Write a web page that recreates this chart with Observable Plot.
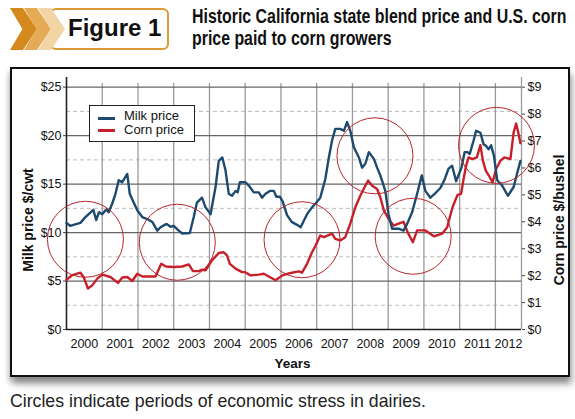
<!DOCTYPE html>
<html>
<head>
<meta charset="utf-8">
<script src="https://cdn.jsdelivr.net/npm/d3@7"></script>
<script src="https://cdn.jsdelivr.net/npm/@observablehq/plot@0.6"></script>
<style>
  html, body { margin: 0; padding: 0; background: #fff; }
  body { width: 575px; height: 419px; position: relative; overflow: hidden; font-family: "Liberation Sans", Arial, Helvetica, sans-serif; color: #111; }
  .abs { position: absolute; }
  #badgeBox { left: 50px; top: 8px; width: 115px; height: 38px; border: 2px solid #dc9a35; border-radius: 6px; background: #fff; }
  .chev { position: absolute; top: 8px; width: 27px; height: 42px; clip-path: polygon(0 0, 48% 0, 100% 50%, 48% 100%, 0 100%, 46% 50%); }
  #figText { left: 68px; top: 13.8px; font-size: 24px; line-height: 28px; font-weight: bold; color: #111; white-space: nowrap; }
  #title { left: 191.5px; top: 6px; font-size: 19.5px; line-height: 21.7px; font-weight: bold; color: #111; white-space: nowrap; transform: scaleX(0.815); transform-origin: 0 0; }
  #frame { left: 10px; top: 67px; width: 556px; height: 306px; border: 2px solid #111; background: #fff; box-shadow: 2px 7px 7px rgba(0,0,0,0.38), -2px 4px 5px rgba(0,0,0,0.15); }
  #chart { position: absolute; left: 0; top: 0; }
  #legend { left: 77px; top: 36px; width: 104px; height: 35px; border: 1.5px solid #222; background: #fff; font-size: 13px; }
  .sw { position: absolute; left: 8px; width: 17px; height: 2.6px; }
  .lt { position: absolute; left: 34px; line-height: 14px; white-space: nowrap; }
  .rot { position: absolute; transform: translate(-50%, -50%) rotate(-90deg); white-space: nowrap; font-weight: bold; font-size: 14px; }
  #years { position: absolute; transform: translate(-50%, -50%); font-weight: bold; font-size: 13.5px; white-space: nowrap; }
  #caption { left: 10px; top: 391px; font-size: 17.7px; line-height: 20px; color: #222; white-space: nowrap; }
</style>
</head>
<body>
<div id="badgeBox" class="abs"></div>
<div class="chev" style="left:10px;background:#d4891c"></div>
<div class="chev" style="left:24px;background:#e5aa55"></div>
<div class="chev" style="left:38px;background:#f2d5a5"></div>
<div id="figText" class="abs">Figure 1</div>
<div id="title" class="abs">Historic California state blend price and U.S. corn<br>price paid to corn growers</div>
<div id="frame" class="abs">
  <div id="chart"></div>
  <div id="legend" class="abs">
    <div class="sw" style="top:11px;background:#1d4a6e"></div>
    <div class="lt" style="top:3px">Milk price</div>
    <div class="sw" style="top:23px;background:#c8202a"></div>
    <div class="lt" style="top:17px">Corn price</div>
  </div>
  <div class="rot" style="left:15.5px;top:151px">Milk price $/cwt</div>
  <div class="rot" style="left:547px;top:151px">Corn price $/bushel</div>
  <div id="years" style="left:280.5px;top:293.5px">Years</div>
</div>
<div id="caption" class="abs">Circles indicate periods of economic stress in dairies.</div>

<script>
// ---- Data ----
const milkYears = [
  2000.00,2000.10,2000.39,2000.53,2000.62,2000.75,2000.83,2000.91,
  2001.00,2001.12,2001.18,2001.28,2001.37,2001.46,2001.56,2001.70,2001.77,2001.88,2001.98,
  2002.12,2002.26,2002.40,2002.54,2002.63,2002.80,2002.91,
  2003.00,2003.14,2003.24,2003.45,2003.56,2003.65,2003.79,2003.89,
  2004.03,2004.17,2004.26,2004.36,2004.45,2004.54,2004.63,2004.73,2004.79,2004.85,
  2005.00,2005.10,2005.24,2005.38,2005.47,2005.57,2005.69,2005.80,2005.87,2005.97,
  2006.05,2006.17,2006.30,2006.45,2006.55,2006.73,2006.87,2006.97,
  2007.10,2007.24,2007.34,2007.43,2007.52,2007.66,2007.76,2007.85,2007.94,
  2008.04,2008.18,2008.27,2008.36,2008.46,2008.60,2008.69,2008.78,2008.92,
  2009.01,2009.11,2009.29,2009.43,2009.53,2009.67,2009.81,2009.94,
  2010.04,2010.18,2010.30,2010.46,2010.57,2010.69,2010.79,2010.90,
  2011.05,2011.14,2011.22,2011.28,2011.39,2011.46,2011.58,2011.67,2011.72,2011.81,2011.88,2011.96,
  2012.05,2012.19,2012.35,2012.51,2012.60,2012.70
];
const milkPrices = [
  11.0,10.7,11.0,11.6,11.9,12.35,11.3,12.1,
  11.9,12.4,12.1,13.0,14.0,15.4,15.2,16.05,14.0,13.1,12.3,
  11.6,11.4,11.1,10.2,10.55,10.9,10.6,
  10.7,10.2,9.9,9.95,11.6,13.1,13.6,12.6,
  11.9,14.7,17.4,17.75,16.4,14.0,13.8,14.3,14.15,15.2,
  15.2,14.85,14.15,14.15,13.6,14.0,14.3,14.3,13.7,13.7,
  13.2,11.8,11.1,10.8,10.55,11.9,12.6,13.0,
  13.6,15.5,17.75,19.5,20.7,20.7,20.5,21.4,20.5,
  18.8,17.75,16.7,17.1,18.3,17.6,16.7,15.9,14.3,
  11.9,10.4,10.4,10.2,10.9,12.1,14.0,15.9,
  14.3,13.6,14.0,14.6,15.4,16.6,16.9,15.3,
  16.7,18.3,18.3,18.1,19.5,20.5,20.3,19.1,19.0,18.6,19.0,17.9,
  15.4,14.85,13.8,14.7,16.0,17.4
];
const cornYears = [
  2000.00,2000.15,2000.39,2000.48,2000.60,2000.72,2000.86,
  2001.00,2001.23,2001.44,2001.56,2001.70,2001.84,2001.98,
  2002.12,2002.49,2002.65,2002.78,
  2003.00,2003.24,2003.42,2003.54,2003.70,2003.79,2003.89,
  2004.07,2004.26,2004.40,2004.49,2004.57,2004.73,2004.91,
  2005.00,2005.15,2005.38,2005.52,2005.71,2005.85,
  2006.04,2006.27,2006.50,2006.59,2006.73,2006.87,2006.97,
  2007.10,2007.20,2007.30,2007.43,2007.52,2007.66,2007.80,2007.94,
  2008.08,2008.22,2008.36,2008.44,2008.55,2008.69,2008.78,2008.88,
  2009.01,2009.15,2009.29,2009.43,2009.55,2009.69,2009.81,
  2010.04,2010.28,2010.51,2010.65,2010.80,2010.94,
  2011.04,2011.11,2011.18,2011.25,2011.35,2011.48,2011.58,2011.65,2011.73,2011.82,2011.92,
  2012.02,2012.14,2012.25,2012.42,2012.51,2012.58,2012.64,2012.70
];
const cornPrices = [
  1.85,2.01,2.11,1.95,1.52,1.64,1.89,
  2.04,1.95,1.73,1.93,1.95,1.80,2.07,
  1.97,1.97,2.44,2.34,
  2.32,2.34,2.42,2.17,2.17,2.22,2.20,
  2.57,2.84,2.87,2.75,2.44,2.26,2.13,
  2.13,2.01,2.04,2.07,1.93,1.83,
  2.01,2.10,2.16,2.11,2.44,2.87,3.12,
  3.49,3.43,3.49,3.56,3.37,3.31,3.43,3.93,
  4.54,4.97,5.34,5.53,5.34,5.22,4.91,4.42,
  4.11,3.86,3.93,4.00,3.60,3.24,3.68,
  3.68,3.46,3.56,3.80,4.54,5.00,
  5.04,5.59,6.08,6.39,6.33,6.39,6.85,6.27,5.90,5.71,5.47,
  5.96,6.27,6.39,6.33,7.32,7.65,7.32,6.92
];
// Stress-period circles (centre year, centre on the milk $/cwt scale)
const circleYears = [2000.53, 2003.10, 2006.59, 2008.63, 2009.70, 2012.03];
const circleMilk  = [9.31, 9.00, 9.26, 17.92, 9.62, 19.00];

const yearTicks = [2000,2001,2002,2003,2004,2005,2006,2007,2008,2009,2010,2011,2012];
const yearLabels = ["2000","2001","2002","2003","2004","2005","2006","2007","2008","2009","2010","2011","2012"];
const milkTicks = [0, 5, 10, 15, 20, 25];
const milkDashTicks = [2.5, 7.5, 12.5, 17.5, 22.5];
const cornTicks = [0, 1, 2, 3, 4, 5, 6, 7, 8, 9];
const xEnd = 2012.73;           // data run ends around Sept 2012
const cornToMilk = 25 / 9;      // right axis $9 aligns with left $25

// ---- Tables ----
const milk = milkYears.map((y, i) => ({year: y, price: milkPrices[i]}));
const corn = cornYears.map((y, i) => ({year: y, price: cornPrices[i]}));
const circles = circleYears.map((y, i) => ({year: y, milk: circleMilk[i]}));
const labelPos = yearTicks.map(y => (y + Math.min(y + 1, xEnd)) / 2);

const milkColor = "#1d4a6e";
const cornColor = "#c8202a";

const chart = Plot.plot({
  width: 556,
  height: 306,
  marginLeft: 54,
  marginRight: 47,
  marginTop: 8,
  marginBottom: 46,
  x: {domain: [2000, xEnd], axis: null},
  y: {domain: [0, 26], axis: null},
  style: {fontFamily: "'Liberation Sans', Arial, Helvetica, sans-serif", fontSize: "12.5px", color: "#111", background: "transparent", overflow: "visible"},
  marks: [
    Plot.ruleY(milkDashTicks, {stroke: "#bdbdbd", strokeWidth: 1, strokeDasharray: "4,3"}),
    Plot.ruleX(yearTicks.slice(1), {y1: 0, y2: 26, stroke: "#9a9a9a", strokeWidth: 1.3, insetBottom: -6}),
    Plot.ruleX([xEnd], {y1: 0, y2: 26, stroke: "#9a9a9a", strokeWidth: 1.3}),
    Plot.ruleY(milkTicks.slice(1), {stroke: "#666", strokeWidth: 1.3}),
    Plot.axisY(milkTicks, {anchor: "left", tickSize: 3, tickPadding: 2, tickFormat: d => "$" + d, label: null, stroke: "#444", fontSize: 12.5}),
    Plot.axisY(cornTicks.map(c => c * cornToMilk), {anchor: "right", tickSize: 3, tickPadding: 3, tickFormat: d => "$" + Math.round(d / cornToMilk), label: null, stroke: "#444", fontSize: 12.5}),
    Plot.text(yearLabels, {x: (d, i) => labelPos[i], y: 0, dy: 14, text: d => d, fontSize: 12.5, fill: "#111"}),
    Plot.ruleY([0], {stroke: "#222", strokeWidth: 1.6}),
    Plot.ruleX([2000], {y1: 0, y2: 26, stroke: "#222", strokeWidth: 1.6}),
    Plot.line(corn, {x: "year", y: d => d.price * cornToMilk, stroke: cornColor, strokeWidth: 2.4, strokeLinejoin: "round"}),
    Plot.line(milk, {x: "year", y: "price", stroke: milkColor, strokeWidth: 2.4, strokeLinejoin: "round"}),
    Plot.dot(circles, {x: "year", y: "milk", r: 38, stroke: "#b8252c", strokeWidth: 1, fill: "none"})
  ]
});
document.getElementById("chart").appendChild(chart);
</script>
</body>
</html>
